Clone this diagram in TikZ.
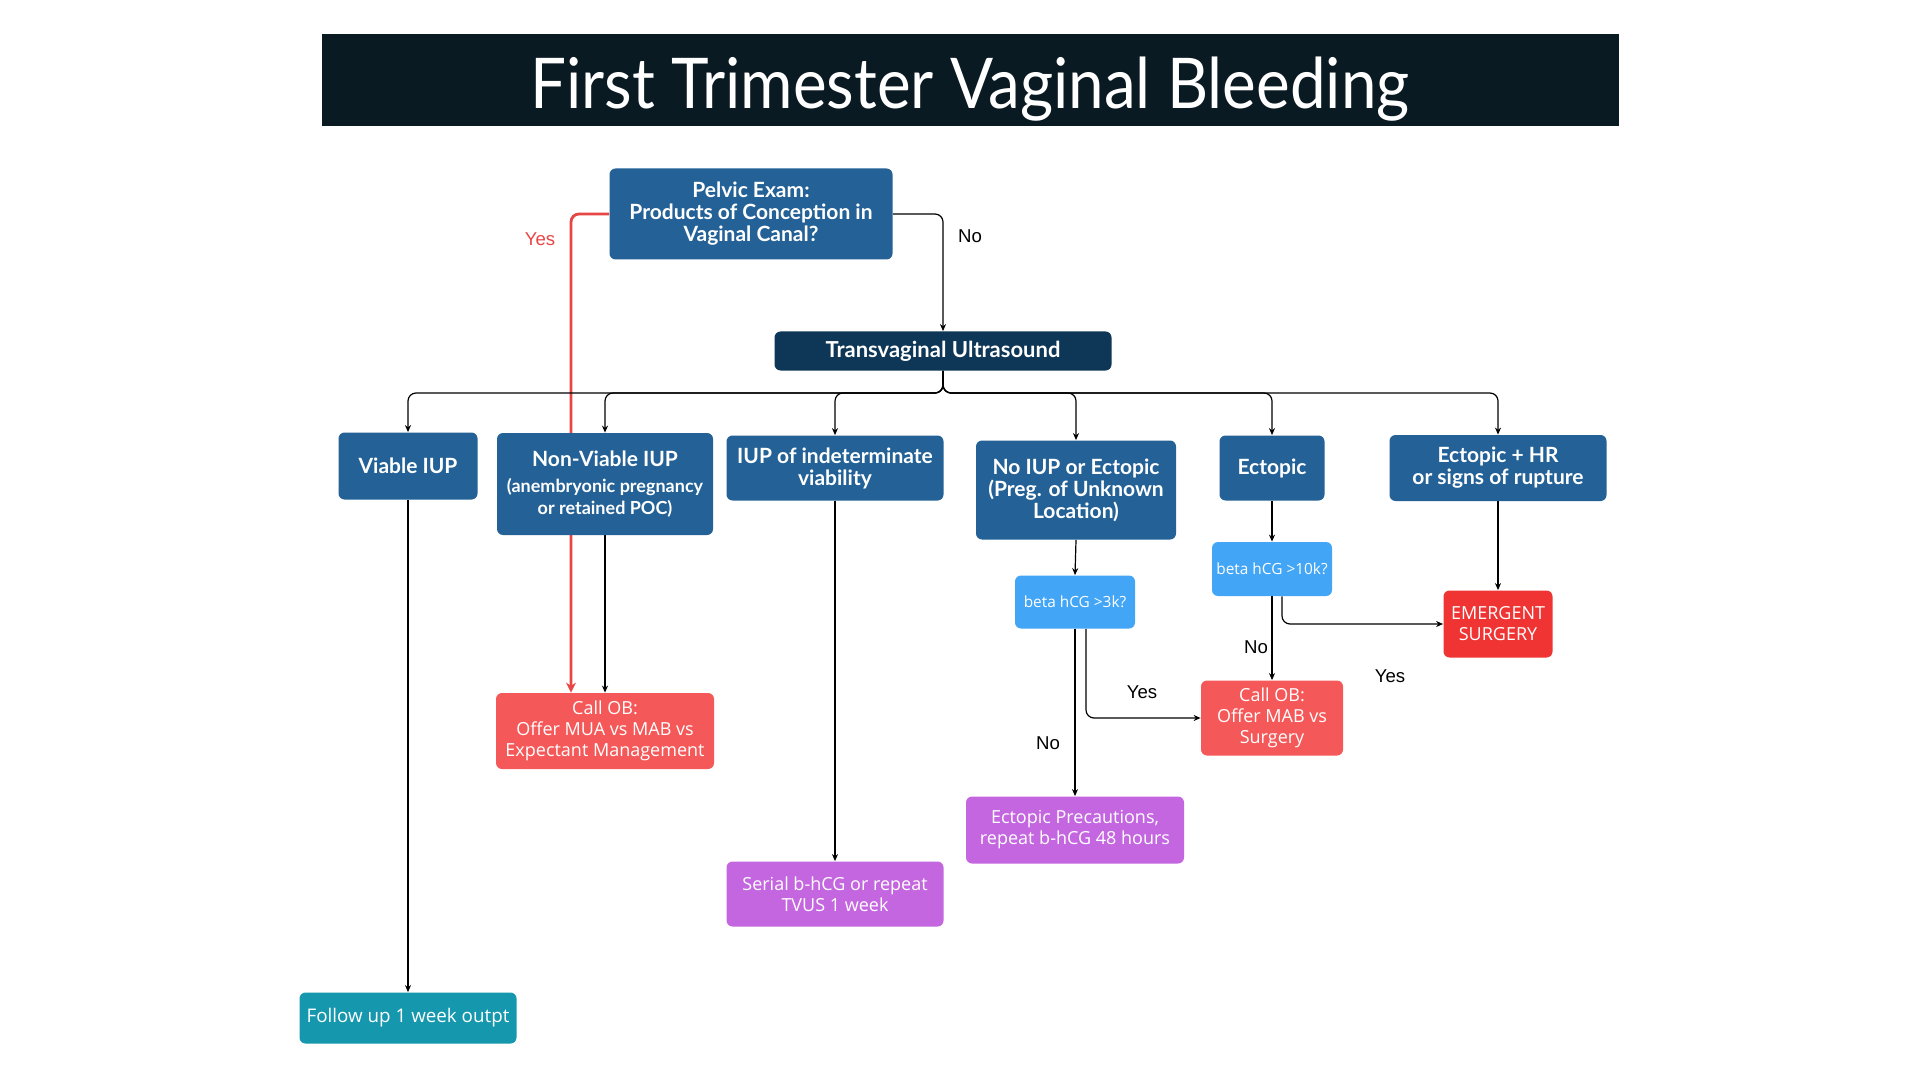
\documentclass[tikz,border=0pt]{standalone}
\usepackage{fontspec}
\setmainfont{Lato}
\newfontfamily\labfont{Liberation Sans}
\newfontfamily\lightfont{Open Sans}
\newfontfamily\titlefont{Lato}
\usetikzlibrary{arrows.meta}
\pgfdeclarelayer{paper}
\pgfdeclarelayer{lines}
\pgfsetlayers{paper,lines,main}
\definecolor{titlebg}{HTML}{0A1A22}
\definecolor{nodeblue}{HTML}{236196}
\definecolor{navybox}{HTML}{0E3656}
\definecolor{lightbluebox}{HTML}{42A5F5}
\definecolor{emredbox}{HTML}{F03434}
\definecolor{salmonbox}{HTML}{F55858}
\definecolor{pplbox}{HTML}{C466E0}
\definecolor{tealbox}{HTML}{1597AE}
\definecolor{redline}{HTML}{E84545}
\tikzset{
  box/.style={rounded corners=3pt, inner sep=0pt, align=center, text=white},
  bluebox/.style={box, fill=nodeblue, font=\bfseries\fontsize{10.5}{11}\selectfont},
  navynode/.style={box, fill=navybox, font=\bfseries\fontsize{11}{12}\selectfont},
  lbbox/.style={box, fill=lightbluebox, font=\lightfont\fontsize{7.7}{10}\selectfont},
  emerbox/.style={box, fill=emredbox, font=\lightfont\fontsize{9}{10.5}\selectfont},
  callbox/.style={box, fill=salmonbox, font=\lightfont\fontsize{9}{10.5}\selectfont},
  pbox/.style={box, fill=pplbox, font=\lightfont\fontsize{9}{10.5}\selectfont},
  tbox/.style={box, fill=tealbox, font=\lightfont\fontsize{9.4}{10.5}\selectfont},
  conn/.style={draw=black, line width=0.6pt, rounded corners=4pt, -{Stealth[length=3.5pt,width=3pt]}},
  redconn/.style={draw=redline, line width=1.4pt, rounded corners=4pt, -{Stealth[length=5pt,width=5pt]}},
  lab/.style={font=\labfont\fontsize{9.3}{11}\selectfont, text=black, inner sep=0pt},
}
\begin{document}
\begin{tikzpicture}[x=0.5pt,y=-0.5pt]
\begin{pgfonlayer}{paper}
\fill[white] (0,0) rectangle (1920,1080);
\end{pgfonlayer}
\useasboundingbox (0,0) rectangle (1920,1080);
% title
\fill[titlebg] (322,34) rectangle (1619,126);
\node[text=white, inner sep=0pt] (title) at (970,89) {\scalebox{0.91}[1]{\titlefont\fontsize{35}{40}\selectfont First Trimester Vaginal Bleeding}};
% nodes
\node[bluebox, minimum width=141.5pt, minimum height=45.5pt] (pelvic) at (751,214) {Pelvic Exam:\\Products of Conception in\\Vaginal Canal?};
\node[navynode, minimum width=168.5pt, minimum height=19.5pt] (transv) at (943,351) {Transvaginal Ultrasound};
\node[bluebox, minimum width=69.5pt, minimum height=33.5pt] (viable) at (408,466) {Viable IUP};
\node[bluebox, minimum width=108pt, minimum height=51pt] (nonviable) at (605,484) {Non-Viable IUP\\[2pt]{\fontsize{9}{9}\selectfont (anembryonic pregnancy}\\{\fontsize{9}{9}\selectfont or retained POC)}};
\node[bluebox, minimum width=108.5pt, minimum height=32.5pt] (indet) at (835,468) {IUP of indeterminate\\viability};
\node[bluebox, minimum width=100pt, minimum height=49.5pt] (noiup) at (1076,490) {No IUP or Ectopic\\(Preg. of Unknown\\Location)};
\node[bluebox, minimum width=52.5pt, minimum height=32.5pt] (ectopic) at (1272,468) {Ectopic};
\node[bluebox, minimum width=108.5pt, minimum height=33pt] (ecthr) at (1498,468) {Ectopic + HR\\or signs of rupture};
\node[lbbox, minimum width=60pt, minimum height=26.5pt] (b3) at (1075,602) {beta hCG >3k?};
\node[lbbox, minimum width=60pt, minimum height=27pt] (b10) at (1272,569) {beta hCG >10k?};
\node[emerbox, minimum width=54.5pt, minimum height=33.5pt] (emerg) at (1498,624) {EMERGENT\\SURGERY};
\node[callbox, minimum width=71pt, minimum height=37.5pt] (callmab) at (1272,718) {Call OB:\\Offer MAB vs\\Surgery};
\node[callbox, minimum width=109pt, minimum height=38pt] (callmua) at (605,731) {Call OB:\\Offer MUA vs MAB vs\\Expectant Management};
\node[pbox, minimum width=109pt, minimum height=33.5pt] (ectprec) at (1075,830) {Ectopic Precautions,\\repeat b-hCG 48 hours};
\node[pbox, minimum width=108.5pt, minimum height=32.5pt] (serial) at (835,894) {Serial b-hCG or repeat\\TVUS 1 week};
\node[tbox, minimum width=108.5pt, minimum height=25.5pt] (follow) at (408,1018) {Follow up 1 week outpt};
% connectors
\begin{pgfonlayer}{lines}
\coordinate (hub) at (943,393);
\draw[conn] (pelvic.east) -| (transv.north);
\draw[redconn] (pelvic.west) -| ([xshift=-17pt]callmua.north);
\draw[conn] (transv.south) -- (hub) -| (viable.north);
\draw[conn] (transv.south) -- (hub) -| (nonviable.north);
\draw[conn] (transv.south) -- (hub) -| (indet.north);
\draw[conn] (transv.south) -- (hub) -| (noiup.north);
\draw[conn] (transv.south) -- (hub) -| (ectopic.north);
\draw[conn] (transv.south) -- (hub) -| (ecthr.north);
\draw[conn] (viable.south) -- (follow.north);
\draw[conn] (nonviable.south) -- (callmua.north);
\draw[conn] (indet.south) -- (serial.north);
\draw[conn] (noiup.south) -- (b3.north);
\draw[conn] (b3.south) -- (ectprec.north);
\draw[conn] ([xshift=5.5pt]b3.south) |- (callmab.west);
\draw[conn] (ectopic.south) -- (b10.north);
\draw[conn] (b10.south) -- (callmab.north);
\draw[conn] ([xshift=5pt]b10.south) |- (emerg.west);
\draw[conn] (ecthr.south) -- (emerg.north);
\end{pgfonlayer}
% labels
\node[lab, text=redline] (lyes1) at (540,239) {Yes};
\node[lab] (lno1) at (970,236) {No};
\node[lab] (lno2) at (1256,647) {No};
\node[lab] (lyes2) at (1390,676) {Yes};
\node[lab] (lyes3) at (1142,692) {Yes};
\node[lab] (lno3) at (1048,743) {No};
\end{tikzpicture}
\end{document}
